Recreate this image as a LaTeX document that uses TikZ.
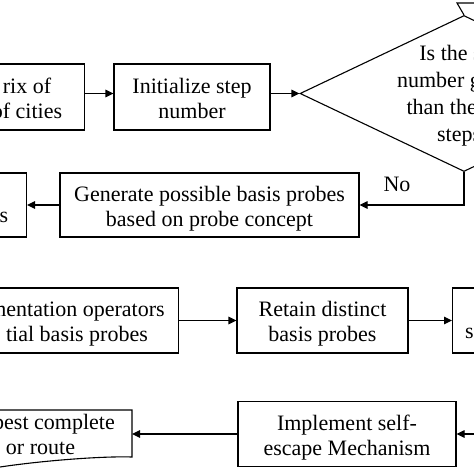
\documentclass[tikz,border=0pt]{standalone}
\usepackage{fontspec}
\setmainfont{Liberation Serif}
\usetikzlibrary{arrows.meta, positioning, shapes.geometric}

\tikzset{
  txt/.style={font=\fontsize{22}{25}\selectfont, align=center, inner sep=0pt,
    execute at end node=\strut},
  two/.style={txt, execute at begin node={\rule{0pt}{50pt}}},
  box/.style={draw, line width=1.1pt, minimum height=65pt},
  flow/.style={-{Triangle[length=8pt,width=7.5pt]}, line width=1.1pt},
}

\begin{document}
\begin{tikzpicture}[x=1pt, y=-1pt]
  \useasboundingbox (0,0) rectangle (474,474);
  \clip (0,0) rectangle (474,474);
  % first row
  \node[box, minimum width=180pt, minimum height=66pt, anchor=east] (mat) at (85,97) {};
  \node[two] (matt) at (27,97) {rix of\\of cities};
  \node[box, two, minimum width=156pt, minimum height=66pt] (init) at (192,97) {Initialize step\\number};
  \node[draw, line width=1.1pt, diamond, minimum width=328pt, minimum height=156pt, inner sep=0pt] (dec) at (464,93.5) {};
  \node[txt, font=\fontsize{22}{27}\selectfont] (dect) at ([yshift=-4pt]dec.center) {Is the step\\number greater\\than the total\\steps?};
  \coordinate (topr) at (480,3);
  \coordinate (topl) at (457,3);
  \draw[line width=1.1pt] (topr) -- (topl) -- (dec.north);
  \draw[flow] (mat.east |- dec) -- (init.west |- dec);
  \draw[flow] (init.east |- dec) -- (dec.west);
  % second row
  \node[box, two, minimum width=299pt, minimum height=64pt] (gen) at (209.5,205) {Generate possible basis probes\\based on probe concept};
  \node[box, minimum width=120pt, minimum height=64pt, anchor=east] (eval) at (27,205) {};
  \node[txt, anchor=east] (evalt) at (8.5,217.5) {s};
  \draw[flow] (dec.south) |- (gen.east);
  \node[txt] (no) at (397,186) {No};
  \draw[flow] (gen) -- (eval);
  % third row
  \node[box, minimum width=200pt, anchor=east] (aug) at (179,320.5) {};
  \node[two] (augt) at (77,320.5) {mentation operators\\tial basis probes};
  \node[box, two, minimum width=171pt] (ret) at (322.5,320.5) {Retain distinct\\basis probes};
  \node[box, minimum width=150pt, anchor=west] (sel) at (452,320.5) {};
  \node[txt, anchor=west] (selt) at (465,333) {s};
  \draw[flow] (aug) -- (ret);
  \draw[flow] (ret) -- (sel);
  % fourth row
  \node[box, two, minimum width=218pt] (esc) at (347,434) {Implement self-\\escape Mechanism};
  \coordinate (escin) at (480,434);
  \draw[flow] (escin) -- (esc.east);
  \draw[line width=1.1pt] (-100,410) -- (132,410) -- (132,457)
    .. controls (100,456) and (40,461) .. (0,467) .. controls (-30,471) .. (-100,470);
  \coordinate (bestin) at (132,434);
  \node[two] (bestt) at (54,433) {best complete\\\hspace*{-27pt}or route};
  \draw[flow] (esc) -- (bestin);
\end{tikzpicture}
\end{document}
